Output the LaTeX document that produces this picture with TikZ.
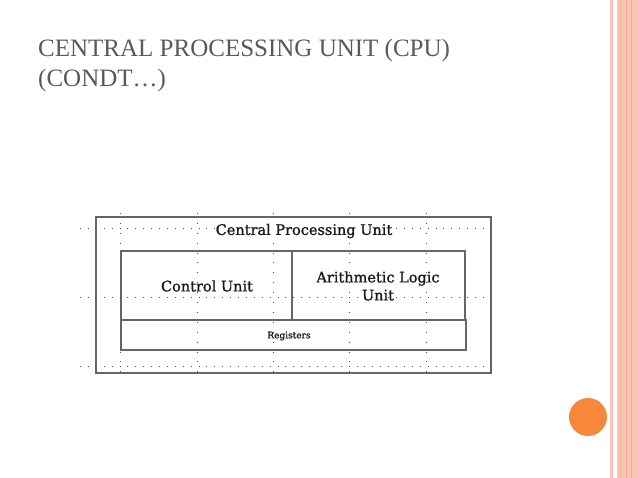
\documentclass[tikz,border=0pt]{standalone}
\usepackage{fontspec}
\setmainfont{Liberation Serif}
\newfontfamily\dvs{DejaVu Serif}
\definecolor{salmon}{HTML}{F9C6B2}
\definecolor{salmond}{HTML}{F2AE96}
\definecolor{orng}{HTML}{F7873A}
\definecolor{ttl}{HTML}{595959}
\definecolor{bx}{HTML}{666666}
\begin{document}
\begin{tikzpicture}[x=1pt,y=-1pt,
  box/.style={draw=bx,line width=1.6pt},
  dotrow/.style={draw=black!70,line width=0.9pt,dash pattern=on 0.9pt off 7pt},
  lbl/.style={font=\dvs\fontsize{14.5}{18}\selectfont,text=black!90,align=center}]
\useasboundingbox (0,0) rectangle (638,478);
\fill[white] (0,0) rectangle (638,478);
% stripes
\fill[salmon] (610,0) rectangle (613,478);
\fill[salmon] (617,0) rectangle (638,478);
\foreach \x in {620,626,631} \draw[salmond,line width=0.8pt] (\x,0) -- (\x,478);
\fill[orng] (588,417) circle (19);
% title
\node[anchor=north west,text=ttl,font=\fontsize{25}{30}\selectfont,align=left,inner sep=0] (title) at (38,39) {CENTRAL PROCESSING UNIT (CPU)\\(CONDT…)};
% dots
\foreach \y in {228,297,366} \draw[dotrow] (80,\y) -- (491,\y);
\foreach \x in {120,197,273,349,426} \draw[dotrow,dash pattern=on 0.9pt off 9pt] (\x,213) -- (\x,380);
% boxes
\draw[box] (96,217) rectangle (491,373);
\draw[box] (121,251) rectangle (465,320);
\draw[box] (292,251) -- (292,320);
\draw[box] (121,320) rectangle (466,350);
\node[lbl,text=black!90,draw=none] (cu) at (207,286) {\addfontfeature{FakeBold=1.2}Control Unit};
\node[lbl] (alu) at (378,286) {\addfontfeature{FakeBold=1.2}Arithmetic Logic\\\addfontfeature{FakeBold=1.2}Unit};
\node[font=\dvs\fontsize{9}{11}\selectfont,text=black!90] (reg) at (289,336) {\addfontfeature{FakeBold=1}Registers};
\node[lbl,fill=white,inner sep=1pt] (cpu) at (304,231) {\addfontfeature{FakeBold=1.2}Central Processing Unit};
\end{tikzpicture}
\end{document}
